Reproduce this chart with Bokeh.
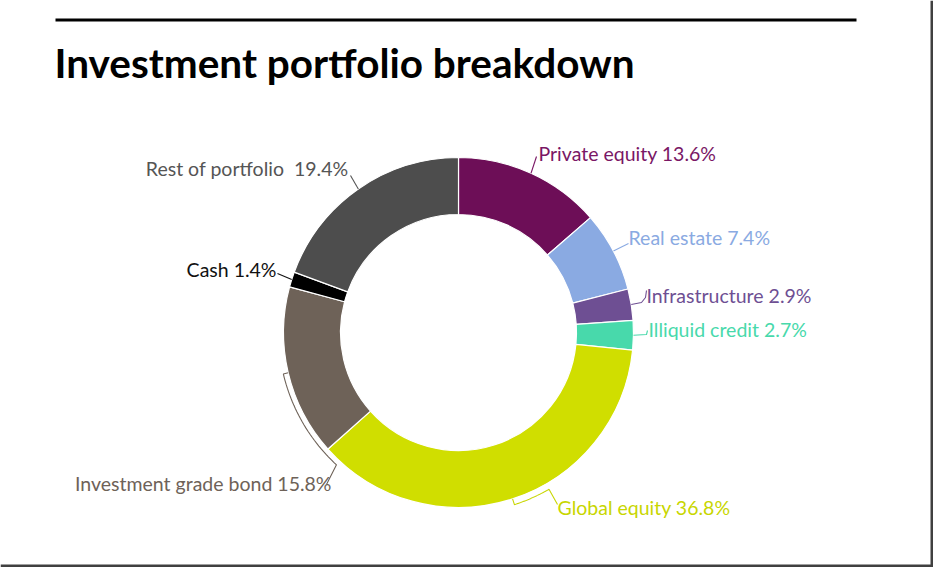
import numpy as np
from bokeh.plotting import figure
from bokeh.models import Range1d
from bokeh.core.properties import value
from bokeh.embed import file_html
from bokeh.resources import INLINE

# Portfolio shares (%), clockwise from 12 o'clock
categories = ["Private equity", "Real estate", "Infrastructure", "Illiquid credit",
              "Global equity", "Investment grade bond", "Cash", "Rest of portfolio"]
shares = [13.6, 7.4, 2.9, 2.7, 36.8, 15.8, 1.4, 19.4]
slice_colors = ["#6d0e57", "#8aaae2", "#6e4f93", "#48d9ab",
                "#d0de00", "#6e6258", "#000000", "#4d4d4d"]
label_colors = ["#7a1765", "#8aaae2", "#6e4f93", "#48d9ab",
                "#c8d600", "#6e6258", "#111111", "#555555"]
label_gaps = [" ", " ", " ", " ", " ", " ", " ", "\u00a0 "]

W, H = 933, 567
CX, CY = 458, 332          # donut centre (page pixels, y down)
R_OUT, R_IN = 175, 118


def Y(py):
    return H - py


def polar(theta_deg, r):
    t = np.radians(theta_deg)
    return CX + r * np.sin(t), CY - r * np.cos(t)


p = figure(width=W, height=H, output_backend="svg", toolbar_location=None,
           x_range=Range1d(0, W), y_range=Range1d(0, H), min_border=0,
           outline_line_color=None, background_fill_color="white",
           border_fill_color="white")
p.axis.visible = False
p.grid.visible = False

# Slices
total = sum(shares)
cum = np.concatenate([[0.0], np.cumsum(shares)]) / total * 360.0
start_deg, end_deg = cum[:-1], cum[1:]
mid_deg = (start_deg + end_deg) / 2
p.annular_wedge(x=[CX] * len(shares), y=[Y(CY)] * len(shares),
                inner_radius=R_IN, outer_radius=R_OUT,
                start_angle=list(np.radians(90 - start_deg)),
                end_angle=list(np.radians(90 - end_deg)),
                direction="clock", fill_color=slice_colors,
                line_color="white", line_width=1.2)

# Label placement: (x, y-centre, align) and leader route
label_pos = [(538, 153, "left"), (628, 237, "left"), (646, 295, "left"),
             (648, 329, "left"), (557, 507, "left"), (331, 483, "right"),
             (276, 269, "right"), (348, 168, "right")]
leader_via = [[(536, 156)], [(628, 243)], [(641, 302), (645, 297), (646, 290)],
              [(646, 334), (647, 330)], [(557, 504)], [(326, 484)],
              [(277, 273)], [(350, 175)]]
# slices whose leader hugs the ring as a bracket: (bracket radius, arc sweep in degrees)
bracket = {4: (181, -12), 5: (180, -34)}

xs, ys = [], []
for i, m in enumerate(mid_deg):
    pts = [polar(m, R_OUT)]
    if i in bracket:
        rb, sweep = bracket[i]
        for a in np.linspace(m, m + sweep, 30):
            pts.append(polar(a, rb))
    pts += leader_via[i]
    xs.append([q[0] for q in pts])
    ys.append([Y(q[1]) for q in pts])
p.multi_line(xs=xs, ys=ys, line_color=label_colors, line_width=1.1)

labels = [f"{c}{g}{v:.1f}%" for c, g, v in zip(categories, label_gaps, shares)]
for align in ("left", "right"):
    idx = [i for i, lp in enumerate(label_pos) if lp[2] == align]
    p.text(x=[label_pos[i][0] for i in idx], y=[Y(label_pos[i][1]) for i in idx],
           text=[labels[i] for i in idx], text_color=[label_colors[i] for i in idx],
           text_align=align, text_baseline="middle",
           text_font=value("Lato"), text_font_size="19.5px")

# Title and rule
p.line(x=[55, 856], y=[Y(19.5), Y(19.5)], line_color="black", line_width=3)
p.text(x=[54], y=[Y(62)], text=["Investment portfolio breakdown"],
       text_align="left", text_baseline="middle", text_color="black",
       text_font=value("Lato"), text_font_style="bold", text_font_size="40.5px")

# Frame edges
p.line(x=[931.5, 931.5], y=[0, H], line_color="#404040", line_width=3)
p.line(x=[0, W], y=[1.5, 1.5], line_color="#404040", line_width=3)

open("out.html", "w").write(file_html(p, INLINE))
